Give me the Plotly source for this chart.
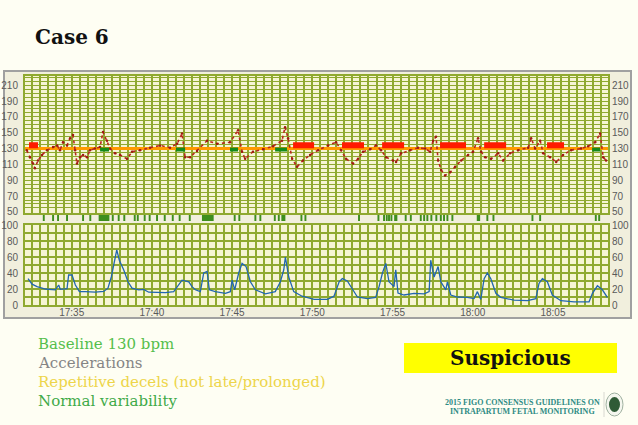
import plotly.graph_objects as go

# ------------------------------------------------------------------ data
# time in minutes after 17:30
FHR_T = [2.20, 2.40, 2.59, 2.71, 2.90, 3.15, 3.46, 3.84, 4.09, 4.27, 4.46, 4.71, 4.90, 5.08,
         5.21, 5.33, 5.52, 5.71, 5.96, 6.14, 6.45, 6.77, 6.95, 7.20, 7.39, 7.70, 8.01, 8.45,
         8.76, 9.26, 9.88, 10.51, 11.13, 11.57, 11.88, 12.07, 12.38, 12.81, 13.44, 14.06,
         14.87, 15.37, 15.62, 15.81, 16.30, 16.93, 17.55, 18.11, 18.30, 18.49, 18.74, 19.05,
         19.42, 19.86, 20.36, 20.98, 21.48, 21.79, 22.10, 22.54, 22.85, 23.16, 23.60, 23.97,
         24.28, 24.60, 25.03, 25.22, 25.53, 26.09, 26.59, 27.03, 27.34, 27.53, 27.71, 27.84,
         28.03, 28.27, 28.59, 28.90, 29.28, 29.71, 30.02, 30.33, 30.52, 30.77, 31.14, 31.58,
         31.89, 32.33, 32.83, 33.45, 33.64, 33.89, 34.20, 34.39, 34.82, 35.20, 35.63, 36.13,
         36.75, 37.19, 37.63, 37.94, 38.13, 38.31]
FHR_BPM = [128, 119, 111, 105, 115, 122, 128, 132, 134, 128, 138, 134, 143, 147,
           128, 111, 119, 122, 119, 128, 130, 132, 151, 140, 130, 124, 122, 117,
           126, 128, 131, 134, 131, 136, 149, 119, 119, 127, 140, 136,
           138, 153, 126, 117, 126, 129, 133, 140, 157, 143, 117, 107,
           115, 122, 128, 134, 138, 128, 117, 111, 117, 126, 129, 134,
           128, 119, 115, 113, 124, 128, 131, 130, 126, 140, 145, 115,
           103, 96, 100, 107, 115, 122, 126, 143, 126, 119, 117, 124,
           115, 124, 128, 131, 143, 130, 140, 124, 119, 113, 122, 128,
           130, 133, 138, 149, 119, 115]

UC_T = [2.28, 2.53, 2.84, 3.36, 3.98, 4.19, 4.29, 4.71, 4.81, 5.02, 5.23, 5.48, 5.85, 6.47,
        7.00, 7.26, 7.47, 7.68, 7.81, 7.97, 8.24, 8.51, 8.76, 9.18, 9.49, 9.80, 10.21, 10.84,
        11.36, 11.67, 11.88, 12.30, 12.50, 12.71, 13.02, 13.23, 13.44, 13.58, 13.95, 14.58,
        14.89, 15.00, 15.16, 15.41, 15.62, 15.87, 16.14, 16.45, 17.07, 17.69, 18.01, 18.22,
        18.32, 18.53, 18.84, 19.36, 19.98, 20.11, 20.94, 21.35, 21.67, 21.87, 22.18, 22.50,
        22.81, 23.43, 23.95, 24.16, 24.37, 24.58, 24.78, 25.09, 25.20, 25.34, 25.72, 26.34,
        26.97, 27.28, 27.38, 27.59, 27.84, 28.01, 28.32, 28.42, 28.63, 29.04, 29.66, 30.08,
        30.29, 30.50, 30.71, 30.91, 31.12, 31.44, 31.75, 32.58, 33.41, 33.93, 34.13, 34.34,
        34.65, 34.96, 35.49, 36.32, 37.25, 37.46, 37.77, 38.08, 38.39]
UC_VAL = [33, 26, 23, 20, 19, 25, 19.6, 20.4, 37.5, 37.5, 25, 16.7, 16.7, 16,
          17, 21, 35, 56, 69, 56, 44, 29, 21, 19, 19.6, 16, 15.4, 15.4,
          16.7, 25, 31, 29, 23, 19, 16.7, 40, 42, 19, 16.7, 14.6,
          16.7, 31, 19, 40, 52, 48, 29, 19, 14, 16.7, 29, 44,
          60, 35, 16.7, 11, 8, 7, 7, 11, 29, 33, 30, 19,
          10, 8, 9.6, 23, 40, 52, 29, 23, 44, 15, 12.5, 14.6,
          14, 16.7, 56, 35, 48, 29, 19, 29, 12.5, 10, 9.6, 8,
          16.7, 7, 33, 40, 33, 14.6, 9.6, 6, 5.4, 8, 27, 33,
          29, 12.5, 5.4, 4, 4, 14.6, 24, 19, 9.6]

BASELINE = 130
DECEL_START = [2.34, 18.80, 21.85, 24.35, 27.96, 30.71, 34.63]
DECEL_END = [2.90, 20.11, 23.22, 25.72, 29.58, 32.08, 35.69]
ACCEL_START = [6.77, 11.50, 14.87, 17.68, 37.44]
ACCEL_END = [7.33, 12.07, 15.37, 18.42, 37.94]

MOVE_START = [3.20, 3.78, 4.09, 4.65, 5.65, 6.10, 6.68, 7.50, 7.87, 8.22, 8.87, 9.06, 9.49,
              9.80, 10.26, 10.74, 11.24, 11.67, 12.30, 13.12, 15.10, 15.39, 16.39, 16.70,
              17.60, 17.85, 18.07, 19.26, 19.51, 22.85, 24.06, 24.41, 24.58, 24.72, 24.87,
              25.10, 25.76, 26.08, 26.70, 26.91, 27.11, 27.36, 27.67, 27.95, 28.15, 28.36,
              28.67, 30.25, 30.85, 31.23, 33.66, 34.14, 37.61, 37.82]
MOVE_END = [3.32, 3.90, 4.21, 4.77, 5.77, 6.22, 7.35, 7.62, 7.99, 8.34, 8.99, 9.18, 9.61,
            9.92, 10.38, 10.86, 11.36, 11.79, 12.42, 13.85, 15.22, 15.51, 16.51, 16.82,
            17.72, 17.97, 18.32, 19.38, 19.63, 22.97, 24.18, 24.53, 24.70, 24.84, 24.99,
            25.30, 25.88, 26.20, 26.82, 27.03, 27.23, 27.48, 27.79, 28.07, 28.27, 28.48,
            28.79, 30.46, 30.97, 31.35, 33.78, 34.26, 37.73, 37.94]

TIME_LABEL_MIN = [5, 10, 15, 20, 25, 30, 35]
TIME_LABELS = ["17:35", "17:40", "17:45", "17:50", "17:55", "18:00", "18:05"]
FHR_LABELS = [210, 190, 170, 150, 130, 110, 90, 70, 50]
UC_LABELS = [100, 80, 60, 40, 20, 0]

TITLE = "Case 6"
NOTES = ["Baseline 130 bpm", "Accelerations", "Repetitive decels (not late/prolonged)",
         "Normal variability"]
NOTE_COLORS = ["#55BE4C", "#858585", "#EDD54A", "#3FAA48"]
VERDICT = "Suspicious"
FOOTER = ["2015 FIGO CONSENSUS GUIDELINES ON", "INTRAPARTUM FETAL MONITORING"]

# ------------------------------------------------------------------ layout helpers
W, H = 638, 425


def px(x):
    return x / W


def py(y):
    return 1 - y / H


GRID = '#8FA930'
CELL = '#F6F5D4'
PANEL = '#F1EFDD'
SLIDE = '#FEFEF3'
TICKFONT = dict(family='Liberation Sans, Arial, sans-serif', size=10, color='#5A5A5A')

X_RANGE = [2.09, 38.43]
X_DOMAIN = [px(25), px(608)]
FHR_DOMAIN = [py(212.7), py(75.7)]
UC_DOMAIN = [py(305), py(225)]
FHR_RANGE = [49, 222]
UC_RANGE = [0, 100]

x_grid = [k / 2 for k in range(5, 77)]
time_map = dict(zip(TIME_LABEL_MIN, TIME_LABELS))
x_text = [time_map.get(v, '') for v in x_grid]
fhr_grid = list(range(50, 221, 5))
fhr_text = [str(v) if v in FHR_LABELS else '' for v in fhr_grid]
uc_grid = list(range(0, 101, 10))
uc_text = [str(v) if v in UC_LABELS else '' for v in uc_grid]

fig = go.Figure()
fig.add_trace(go.Scatter(x=X_RANGE, y=[BASELINE, BASELINE], mode='lines',
                         line=dict(color='#FF9A00', width=3),
                         xaxis='x', yaxis='y', hoverinfo='skip', showlegend=False))
fig.add_trace(go.Scatter(x=FHR_T, y=FHR_BPM, mode='lines+markers',
                         line=dict(color='#B8281F', width=1.6, dash='dot'),
                         marker=dict(size=2.5, color='#9E1B14'),
                         xaxis='x', yaxis='y', hoverinfo='skip', showlegend=False))
fig.add_trace(go.Scatter(x=UC_T, y=UC_VAL, mode='lines',
                         line=dict(color='#2166B0', width=1.3),
                         xaxis='x2', yaxis='y2', hoverinfo='skip', showlegend=False))
fig.add_trace(go.Scatter(x=[FHR_T[0]], y=[FHR_BPM[0]], mode='markers', marker=dict(opacity=0),
                         xaxis='x', yaxis='y3', hoverinfo='skip', showlegend=False))
fig.add_trace(go.Scatter(x=[UC_T[0]], y=[UC_VAL[0]], mode='markers', marker=dict(opacity=0),
                         xaxis='x2', yaxis='y4', hoverinfo='skip', showlegend=False))

shapes = []
# panel
shapes.append(dict(type='rect', xref='paper', yref='paper', x0=px(4), x1=px(631),
                   y0=py(318), y1=py(71), fillcolor=PANEL,
                   line=dict(color='#A0A0A0', width=2), layer='below'))
# chart cells
for dom in (FHR_DOMAIN, UC_DOMAIN):
    shapes.append(dict(type='rect', xref='paper', yref='paper', x0=X_DOMAIN[0], x1=X_DOMAIN[1],
                       y0=dom[0], y1=dom[1], fillcolor=CELL, line=dict(width=0), layer='below'))
for s, e in zip(DECEL_START, DECEL_END):
    shapes.append(dict(type='rect', xref='x', yref='y', x0=s, x1=e, y0=130.4, y1=137.9,
                       fillcolor='#FF1A00', line=dict(width=0), layer='above'))
for s, e in zip(ACCEL_START, ACCEL_END):
    shapes.append(dict(type='rect', xref='x', yref='y', x0=s, x1=e, y0=126.2, y1=131.3,
                       fillcolor='#138A1A', line=dict(width=0), layer='above'))
for s, e in zip(MOVE_START, MOVE_END):
    shapes.append(dict(type='rect', xref='x', yref='paper', x0=s, x1=e, y0=py(221), y1=py(215),
                       fillcolor='#3E8E1E', line=dict(width=0), layer='above'))
# verdict box
shapes.append(dict(type='rect', xref='paper', yref='paper', x0=px(404), x1=px(617),
                   y0=py(373), y1=py(343), fillcolor='#FFFF00', line=dict(width=0),
                   layer='below'))
# logo
shapes.append(dict(type='line', xref='paper', yref='paper', x0=px(604), x1=px(604),
                   y0=py(417), y1=py(392), line=dict(color='#D8D8D0', width=1)))
shapes.append(dict(type='circle', xref='paper', yref='paper', x0=px(606), x1=px(623),
                   y0=py(416), y1=py(393), fillcolor='#F4F6EE',
                   line=dict(color='#9FB0A0', width=1)))
shapes.append(dict(type='circle', xref='paper', yref='paper', x0=px(609), x1=px(620),
                   y0=py(412), y1=py(397), fillcolor='#2F5B36', line=dict(width=0)))

annotations = []
annotations.append(dict(text='<b>' + TITLE + '</b>', x=px(33), y=py(37), xref='paper',
                        yref='paper', xanchor='left', yanchor='middle', showarrow=False,
                        font=dict(family='DejaVu Serif', size=20, color='#111111')))
for i, (t, c) in enumerate(zip(NOTES, NOTE_COLORS)):
    annotations.append(dict(text=t, x=px(36), y=py(344 + 19 * i), xref='paper', yref='paper',
                            xanchor='left', yanchor='middle', showarrow=False,
                            font=dict(family='DejaVu Serif', size=15, color=c)))
annotations.append(dict(text='<b>' + VERDICT + '</b>', x=px(510.5), y=py(358), xref='paper',
                        yref='paper', xanchor='center', yanchor='middle', showarrow=False,
                        font=dict(family='DejaVu Serif', size=20, color='#111111')))
for i, t in enumerate(FOOTER):
    annotations.append(dict(text='<b>' + t + '</b>', x=px(522), y=py(402 + 9.5 * i),
                            xref='paper', yref='paper', xanchor='center', yanchor='middle',
                            showarrow=False,
                            font=dict(family='Liberation Serif', size=8, color='#2E8B84')))

common_x = dict(range=X_RANGE, domain=X_DOMAIN, tickmode='array', tickvals=x_grid,
                showgrid=True, gridcolor=GRID, gridwidth=1.8, zeroline=False, ticks='',
                ticklen=0, showline=True, linecolor=GRID, linewidth=2, mirror=True,
                fixedrange=True)
common_y = dict(tickmode='array', tickfont=TICKFONT, zeroline=False, ticks='', ticklen=0,
                ticklabelstandoff=3, fixedrange=True)

fig.update_layout(
    width=W, height=H, margin=dict(l=0, r=0, t=0, b=0, autoexpand=False),
    paper_bgcolor=SLIDE, plot_bgcolor='rgba(0,0,0,0)', showlegend=False,
    xaxis=dict(anchor='y', showticklabels=False, **common_x),
    xaxis2=dict(anchor='y2', matches='x', ticktext=x_text, tickfont=TICKFONT,
                ticklabelstandoff=-3, **common_x),
    yaxis=dict(domain=FHR_DOMAIN, range=FHR_RANGE, tickvals=fhr_grid, ticktext=fhr_text,
               showgrid=True, gridcolor=GRID, gridwidth=0.9, showline=True, linecolor=GRID,
               linewidth=2, mirror=True, anchor='x', **common_y),
    yaxis3=dict(overlaying='y', side='right', anchor='x', range=FHR_RANGE, tickvals=FHR_LABELS,
                showgrid=False, showline=False, **common_y),
    yaxis2=dict(domain=UC_DOMAIN, range=UC_RANGE, tickvals=uc_grid, ticktext=uc_text,
                showgrid=True, gridcolor=GRID, gridwidth=1.8, showline=True, linecolor=GRID,
                linewidth=2, mirror=True, anchor='x2', **common_y),
    yaxis4=dict(overlaying='y2', side='right', anchor='x2', range=UC_RANGE, tickvals=UC_LABELS,
                showgrid=False, showline=False, **common_y),
    shapes=shapes, annotations=annotations,
)

fig.write_html("out.html", config={'displayModeBar': False},
               post_script="document.body.style.margin='0';")
